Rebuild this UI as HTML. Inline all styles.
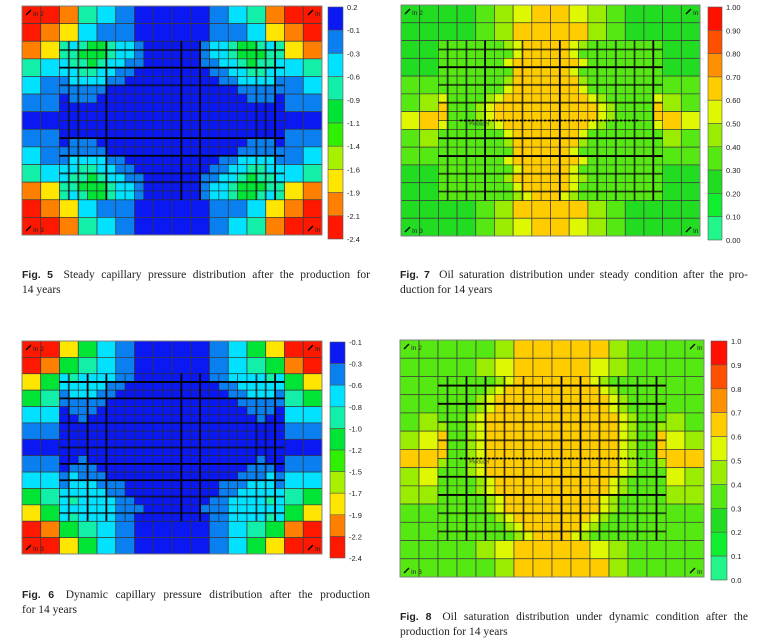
<!DOCTYPE html>
<html><head><meta charset="utf-8">
<style>
body{margin:0;background:#fff;width:768px;height:642px;overflow:hidden;position:relative;font-family:"Liberation Serif",serif}
.cap{position:absolute;font-size:11.5px;line-height:15px;color:#222;width:348px}
.cap .l1{display:block;text-align:justify;text-align-last:justify;white-space:nowrap;overflow:visible}
.cap .l2{display:block}
.cap b{font-family:"Liberation Sans",sans-serif;font-size:10.5px;margin-right:4px}
svg{position:absolute;left:0;top:0}
</style></head><body>
<svg id="chart" width="768" height="642"></svg>
<div class="cap" style="left:22px;top:268px"><span class="l1"><b>Fig. 5</b> Steady capillary pressure distribution after the production for</span><span class="l2">14 years</span></div>
<div class="cap" style="left:400px;top:268px"><span class="l1"><b>Fig. 7</b> Oil saturation distribution under steady condition after the pro-</span><span class="l2">duction for 14 years</span></div>
<div class="cap" style="left:22px;top:588px"><span class="l1"><b>Fig. 6</b> Dynamic capillary pressure distribution after the production</span><span class="l2">for 14 years</span></div>
<div class="cap" style="left:400px;top:610px"><span class="l1"><b>Fig. 8</b> Oil saturation distribution under dynamic condition after the</span><span class="l2">production for 14 years</span></div>
<script>
// ---- data ----
const pressureColors=["#0a18f2","#0a7ff0","#00e2ff","#12efa8","#00e436","#2ef000","#a6f000","#ffe600","#ff8000","#ff1800"];
const oilColors=["#22f58a","#10ee30","#22dc22","#55e812","#9aec00","#ddf800","#ffcc00","#ff9000","#ff5000","#ff1000"];
const fig5Labels=["0.2","-0.1","-0.3","-0.6","-0.9","-1.1","-1.4","-1.6","-1.9","-2.1","-2.4"];
const fig6Labels=["-0.1","-0.3","-0.6","-0.8","-1.0","-1.2","-1.5","-1.7","-1.9","-2.2","-2.4"];
const fig7Labels=["1.00","0.90","0.80","0.70","0.60","0.50","0.40","0.30","0.20","0.10","0.00"];
const fig8Labels=["1.0","0.9","0.8","0.7","0.6","0.5","0.4","0.3","0.2","0.1","0.0"];
const fig5Coarse=["9983210000123899","9872110000112789","87............78","32............23","21............12","11............11","00............00","11............11","21............12","32............23","87............78","9872110000112789","9983210000123899"];
const fig5Fine=["323443221000000122344323","334443221000000122344433","233432211000000112234332","223322110000000011223322","122221100000000001122221","111110000000000000011111","011100000000000000001110","000000000000000000000000","000000000000000000000000","000000000000000000000000","000000000000000000000000","011100000000000000001110","111110000000000000011111","122221100000000001122221","223322110000000011223322","233432211000000112234332","334443221000000122344433","323443221000000122344323"];
const fig6Coarse=["9974210000124799","9843210000123489","74............47","43............34","22............22","11............11","00............00","11............11","22............22","43............34","74............47","9843210000123489","9974210000124799"];
const fig6Fine=["232222110000000011222232","222221100000000001122222","122211000000000000112221","111110000000000000011111","011100000000000000001110","001000000000000000000100","000000000000000000000000","000000000000000000000000","000000000000000000000000","000000000000000000000000","001000000000000000000100","011100000000000000001110","121110000000000000011121","122211100000000001112221","222221100000000001122222","232222110000000011222232","222222111000000111222222","232222110000000011222232"];
const fig7Coarse=["2222345665432222","2222346666432222","22............22","22............22","33............33","34............43","56............65","34............43","33............33","22............22","22............22","2222346666432222","2222345665432222"];
const fig7Fine=["333333345666665433333333","333333335666665333333333","333333356666666533333333","333333336666665333333333","333333346666666433333333","333333356666666533333333","533334566666666654333335","633345666666666665433336","633345666666666665433336","533334566666666654333335","333333356666666533333333","333333346666666433333333","333333336666665333333333","333333356666666533333333","333333335666665333333333","333333346666665433333333","333333335666665333333333","333333334566654333333333"];
const fig8Coarse=["3333346666643333","3333456666543333","33............33","33............33","34............43","45............54","66............66","45............54","44............44","33............33","33............33","3333456666543333","3333346666643333"];
const fig8Fine=["333333456666666654333333","333334566666666665433333","333345666666666666543333","333345666666666666543333","333456666666666666654333","433456666666666666654334","633456666666666666654336","633456666666666666654336","633456666666666666654336","433456666666666666654334","333456666666666666654333","333345666666666666543333","333345666666666666543333","333334566666666665433333","333334566666666665433333","333333456666666654333333","333333345666666543333333","333333334566665433333333"];

const NS="http://www.w3.org/2000/svg";
const svg=document.getElementById('chart');
function mk(tag,attrs,parent){const e=document.createElementNS(NS,tag);for(const k in attrs)e.setAttribute(k,attrs[k]);(parent||svg).appendChild(e);return e;}

function panel(o){
  const g=mk('g',{});
  
  
  const cw=(o.x1-o.x0)/16, rh=(o.y1-o.y0)/13;
  const xs=c=>o.x0+c*cw, ys=r=>o.y0+r*rh;
  const col=d=>o.colors[d];
  o.coarse.forEach((row,r)=>{[...row].forEach((ch,c)=>{
    if(ch==='.')return;
    const rc=mk('rect',{x:xs(c),y:ys(r),width:cw,height:rh,fill:col(+ch),stroke:'#3a3a3a','stroke-width':0.7},g);
    
    
  });});
  const fx0=xs(2), fy0=ys(2), fw=cw/2, fh=rh/2;
  const fxs=i=>fx0+i*fw, fys=j=>fy0+j*fh;
  o.fine.forEach((row,r)=>{[...row].forEach((ch,c)=>{
    const rc=mk('rect',{x:fxs(c),y:fys(r),width:fw,height:fh,fill:col(+ch),stroke:'#2a2a2a','stroke-width':0.6},g);
    
    
  });});
  o.semiV.forEach(i=>mk('line',{x1:fxs(i),x2:fxs(i),y1:fys(0),y2:fys(18),stroke:'rgba(0,0,0,0.45)','stroke-width':2.2},g));
  o.semiH.forEach(j=>mk('line',{x1:fxs(0),x2:fxs(24),y1:fys(j),y2:fys(j),stroke:'rgba(0,0,0,0.45)','stroke-width':2.2},g));
  o.thickV.forEach(i=>{const l=mk('line',{x1:fxs(i),x2:fxs(i),y1:fys(0),y2:fys(18),stroke:'#000','stroke-width':1.8},g);
    });
  o.thickH.forEach(j=>{const l=mk('line',{x1:fxs(0),x2:fxs(24),y1:fys(j),y2:fys(j),stroke:'#000','stroke-width':1.8},g);
    });
  if(o.dotted){const l=mk('line',{x1:fxs(2.3),x2:fxs(21.6),y1:fys(9),y2:fys(9),stroke:'#000','stroke-width':1.8,'stroke-dasharray':'2.5,1.5'},g);
    
    const t=mk('text',{x:fxs(3.3),y:fys(9)+5,'font-size':5,fill:'#333','font-family':'Liberation Sans'},g);t.textContent='Producer';}
  mk('rect',{x:o.x0,y:o.y0,width:o.x1-o.x0,height:o.y1-o.y0,fill:'none',stroke:'#888','stroke-width':0.8},g);
  const wl=[[o.x0+4,o.y0+9,'In 2'],[o.x1-14,o.y0+9,'In'],[o.x0+4,o.y1-4,'In 3'],[o.x1-14,o.y1-4,'In']];
  wl.forEach(w=>{
    mk('line',{x1:w[0],y1:w[1],x2:w[0]+5,y2:w[1]-5,stroke:'#000','stroke-width':1.3},g);
    const t=mk('text',{x:w[0]+7,y:w[1]+1,'font-size':6.5,fill:'#222','font-family':'Liberation Sans'},g);
    t.textContent=w[2];
    
  });
  const cb=mk('g',{},g);
  
  const bh=o.cb.h/10;
  for(let k=0;k<10;k++){
    const d=o.flip?9-k:k;
    mk('rect',{x:o.cb.x,y:o.cb.y+k*bh,width:o.cb.w,height:bh,fill:col(d),stroke:'#555','stroke-width':0.6},cb);
  }
  o.labels.forEach((s,k)=>{
    const t=mk('text',{x:o.cb.x+o.cb.w+4,y:o.cb.y+k*bh+3,'font-size':7.5,fill:'#222','font-family':'Liberation Sans'},cb);
    t.textContent=s;
    
  });
}

panel({name:'fig5-pressure-map',x0:22,y0:6,x1:322,y1:235,coarse:fig5Coarse,fine:fig5Fine,colors:pressureColors,flip:false,
  cb:{x:328,y:7,w:15,h:232},labels:fig5Labels,thickV:[5,13,15,23],thickH:[3,11,13],semiV:[1,2,21,22],semiH:[1,5,15,16],dotted:false});
panel({name:'fig7-oil-saturation-map',x0:401,y0:5,x1:700,y1:236,coarse:fig7Coarse,fine:fig7Fine,colors:oilColors,flip:true,
  cb:{x:708,y:7,w:14,h:233},labels:fig7Labels,thickV:[5,13,23],thickH:[3,11,13],semiV:[1,3,9,17,19,21],semiH:[1,5,7,15,17],dotted:true});
panel({name:'fig6-pressure-map',x0:22,y0:341,x1:322,y1:554,coarse:fig6Coarse,fine:fig6Fine,colors:pressureColors,flip:false,
  cb:{x:330,y:342,w:15,h:216},labels:fig6Labels,thickV:[3,5,13,15,23],thickH:[1,3,11,13],semiV:[1,21,22],semiH:[6,9,15,17],dotted:false});
panel({name:'fig8-oil-saturation-map',x0:400,y0:340,x1:704,y1:577,coarse:fig8Coarse,fine:fig8Fine,colors:oilColors,flip:true,
  cb:{x:711,y:341,w:16,h:239},labels:fig8Labels,thickV:[3,5,13,15,23],thickH:[1,3,11,13],semiV:[1,7,9,17,19,21],semiH:[5,7,15,17],dotted:true});
</script>
</body></html>
